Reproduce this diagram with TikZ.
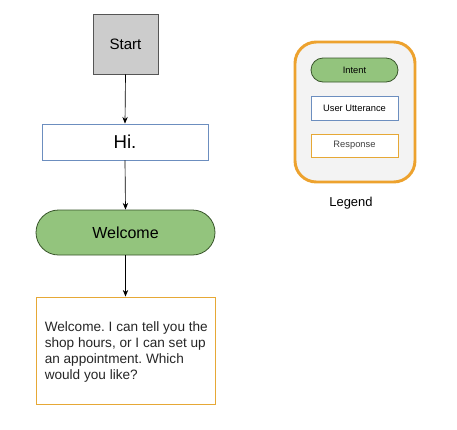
\documentclass[tikz,border=0pt]{standalone}
\usepackage{fontspec}
\setmainfont{Liberation Sans}
\usetikzlibrary{arrows.meta,shapes.misc}
\definecolor{startfill}{HTML}{CCCCCC}
\definecolor{startline}{HTML}{555555}
\definecolor{userline}{HTML}{6C8EBF}
\definecolor{intentfill}{HTML}{93C47D}
\definecolor{intentline}{HTML}{38552A}
\definecolor{respline}{HTML}{E6A836}
\definecolor{legfill}{HTML}{F3F3F3}
\definecolor{legline}{HTML}{EDA22E}
\tikzset{
  px/.style={x=0.75pt,y=-0.75pt},
  startbox/.style={draw=startline,fill=startfill,line width=0.6pt,inner sep=0pt,font=\fontsize{11.3}{13}\selectfont},
  userbox/.style={draw=userline,fill=white,line width=0.6pt,inner sep=0pt},
  intentbox/.style={draw=intentline,fill=intentfill,line width=0.6pt,rounded rectangle,inner sep=0pt},
  respbox/.style={draw=respline,fill=white,line width=0.6pt,inner sep=0pt},
  flow/.style={-{Stealth[length=5pt,width=4pt]},line width=0.5pt,black},
  legitem/.style={minimum width=87*0.75pt,font=\fontsize{7}{8}\selectfont},
}
\frenchspacing
\begin{document}
\begin{tikzpicture}[px]
\useasboundingbox (0,0) rectangle (457,429);
\fill[white] (0,0) rectangle (457,429);
% main flow
\node[startbox,minimum width=65*0.75pt,minimum height=60*0.75pt] (start) at (125.5,44) {Start};
\node[userbox,minimum width=166*0.75pt,minimum height=36*0.75pt,font=\fontsize{14}{16}\selectfont] (hi) at (125,142) {Hi.};
\node[intentbox,minimum width=179*0.75pt,minimum height=45*0.75pt,font=\fontsize{12}{14}\selectfont] (welcome) at (125.5,232.5) {Welcome};
\node[respbox,minimum width=179*0.75pt,minimum height=107*0.75pt] (resp) at (125.5,350.5) {};
\node[anchor=north west,align=left,inner sep=0pt,font=\fontsize{10.2}{12.2}\selectfont,text=black!85] (resptext) at (44.5,321) {Welcome. I can tell you the\\shop hours, or I can set up\\an appointment. Which\\would you like?};
\draw[flow] (start.south) -- (hi.north);
\draw[flow] (hi.south) -- (welcome.north);
\draw[flow] (welcome.south) -- (resp.north);
% legend
\node[draw=legline,fill=legfill,line width=2.2pt,rounded corners=16pt,minimum width=120*0.75pt,minimum height=140*0.75pt] (legend) at (355,112) {};
\node[intentbox,legitem,minimum height=24*0.75pt] (lintent) at (354.5,70) {Intent};
\node[userbox,legitem,minimum height=24*0.75pt] (luser) at (354.5,108) {User Utterance};
\node[respbox,legitem,minimum height=23*0.75pt,text=black!75] (lresp) at (354.5,145.5) {Response};
\node[font=\fontsize{9.7}{11}\selectfont] (legtitle) at (351,203) {Legend};
\end{tikzpicture}
\end{document}
